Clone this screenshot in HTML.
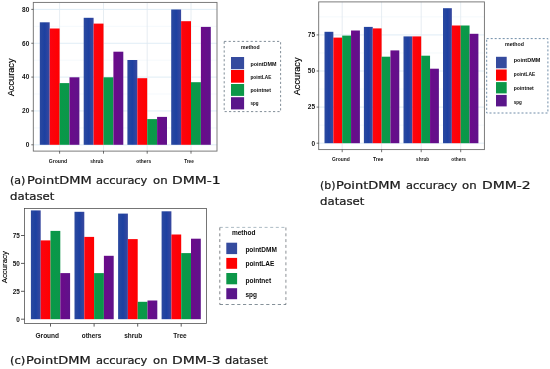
<!DOCTYPE html>
<html><head><meta charset="utf-8"><title>PointDMM accuracy</title>
<style>
html,body{margin:0;padding:0;background:#fff;}
body{width:550px;height:369px;position:relative;overflow:hidden;font-family:"Liberation Sans",sans-serif;}
svg text{font-family:"Liberation Sans",sans-serif;}
.tk{font-size:6.5px;font-weight:bold;fill:#151515;}
.ax{fill:#000;stroke:#000;stroke-width:0.15px;}
.lg{font-weight:bold;fill:#0a0a0a;}
.cap{position:absolute;left:0;top:0;margin:0;}
.w{position:absolute;color:#1a1a1a;font-family:"DejaVu Sans","Liberation Sans",sans-serif;font-size:11.7px;line-height:1;white-space:nowrap;transform-origin:0 0;-webkit-text-stroke:0.25px #1a1a1a;}
</style></head><body>
<svg width="550" height="369" viewBox="0 0 550 369" style="position:absolute;left:0;top:0">
<defs>
<linearGradient id="g0" x1="0" x2="1" y1="0" y2="0"><stop offset="0" stop-color="#2b499f"/><stop offset="0.5" stop-color="#1d40a1"/><stop offset="1" stop-color="#38489f"/></linearGradient>
<linearGradient id="g1" x1="0" x2="1" y1="0" y2="0"><stop offset="0" stop-color="#fb0410"/><stop offset="1" stop-color="#ff0000"/></linearGradient>
<linearGradient id="g2" x1="0" x2="1" y1="0" y2="0"><stop offset="0" stop-color="#089a48"/><stop offset="1" stop-color="#0c964a"/></linearGradient>
<linearGradient id="g3" x1="0" x2="1" y1="0" y2="0"><stop offset="0" stop-color="#6c0a8a"/><stop offset="1" stop-color="#5f128a"/></linearGradient>
</defs>
<rect x="33.3" y="2.4" width="183.7" height="148.7" fill="#fff"/>
<line x1="33.3" x2="217.0" y1="127.88" y2="127.88" stroke="#e9f2f9" stroke-width="0.5"/>
<line x1="33.3" x2="217.0" y1="94.03" y2="94.03" stroke="#e9f2f9" stroke-width="0.5"/>
<line x1="33.3" x2="217.0" y1="60.18" y2="60.18" stroke="#e9f2f9" stroke-width="0.5"/>
<line x1="33.3" x2="217.0" y1="26.33" y2="26.33" stroke="#e9f2f9" stroke-width="0.5"/>
<line x1="33.3" x2="217.0" y1="144.80" y2="144.80" stroke="#d8e8f4" stroke-width="0.8"/>
<line x1="33.3" x2="217.0" y1="110.95" y2="110.95" stroke="#d8e8f4" stroke-width="0.8"/>
<line x1="33.3" x2="217.0" y1="77.10" y2="77.10" stroke="#d8e8f4" stroke-width="0.8"/>
<line x1="33.3" x2="217.0" y1="43.25" y2="43.25" stroke="#d8e8f4" stroke-width="0.8"/>
<line x1="33.3" x2="217.0" y1="9.40" y2="9.40" stroke="#d8e8f4" stroke-width="0.8"/>
<line x1="59.6" x2="59.6" y1="2.4" y2="151.1" stroke="#dfe8ef" stroke-width="0.8"/>
<line x1="103.5" x2="103.5" y1="2.4" y2="151.1" stroke="#dfe8ef" stroke-width="0.8"/>
<line x1="147.2" x2="147.2" y1="2.4" y2="151.1" stroke="#dfe8ef" stroke-width="0.8"/>
<line x1="191.0" x2="191.0" y1="2.4" y2="151.1" stroke="#dfe8ef" stroke-width="0.8"/>
<rect x="39.80" y="22.30" width="9.90" height="122.50" fill="url(#g0)"/>
<rect x="49.70" y="28.50" width="9.90" height="116.30" fill="url(#g1)"/>
<rect x="59.60" y="83.10" width="9.90" height="61.70" fill="url(#g2)"/>
<rect x="69.50" y="77.30" width="9.90" height="67.50" fill="url(#g3)"/>
<rect x="83.70" y="17.80" width="9.90" height="127.00" fill="url(#g0)"/>
<rect x="93.60" y="23.60" width="9.90" height="121.20" fill="url(#g1)"/>
<rect x="103.50" y="77.30" width="9.90" height="67.50" fill="url(#g2)"/>
<rect x="113.40" y="51.70" width="9.90" height="93.10" fill="url(#g3)"/>
<rect x="127.40" y="60.00" width="9.90" height="84.80" fill="url(#g0)"/>
<rect x="137.30" y="78.20" width="9.90" height="66.60" fill="url(#g1)"/>
<rect x="147.20" y="119.10" width="9.90" height="25.70" fill="url(#g2)"/>
<rect x="157.10" y="116.90" width="9.90" height="27.90" fill="url(#g3)"/>
<rect x="171.20" y="9.50" width="9.90" height="135.30" fill="url(#g0)"/>
<rect x="181.10" y="21.20" width="9.90" height="123.60" fill="url(#g1)"/>
<rect x="191.00" y="82.20" width="9.90" height="62.60" fill="url(#g2)"/>
<rect x="200.90" y="26.90" width="9.90" height="117.90" fill="url(#g3)"/>
<rect x="33.3" y="2.4" width="183.7" height="148.7" fill="none" stroke="#6e6e6e" stroke-width="0.9"/>
<line x1="31.3" x2="33.3" y1="144.80" y2="144.80" stroke="#333" stroke-width="0.7"/>
<text x="29.3" y="147.10" text-anchor="end" class="tk">0</text>
<line x1="31.3" x2="33.3" y1="110.95" y2="110.95" stroke="#333" stroke-width="0.7"/>
<text x="29.3" y="113.25" text-anchor="end" class="tk">20</text>
<line x1="31.3" x2="33.3" y1="77.10" y2="77.10" stroke="#333" stroke-width="0.7"/>
<text x="29.3" y="79.40" text-anchor="end" class="tk">40</text>
<line x1="31.3" x2="33.3" y1="43.25" y2="43.25" stroke="#333" stroke-width="0.7"/>
<text x="29.3" y="45.55" text-anchor="end" class="tk">60</text>
<line x1="31.3" x2="33.3" y1="9.40" y2="9.40" stroke="#333" stroke-width="0.7"/>
<text x="29.3" y="11.70" text-anchor="end" class="tk">80</text>
<line x1="59.6" x2="59.6" y1="151.1" y2="153.7" stroke="#333" stroke-width="0.7"/>
<text x="48.7" y="162.9" textLength="18.50" lengthAdjust="spacingAndGlyphs" class="tk" style="font-size:5.5px">Ground</text>
<line x1="103.5" x2="103.5" y1="151.1" y2="153.7" stroke="#333" stroke-width="0.7"/>
<text x="90.2" y="162.9" textLength="13.10" lengthAdjust="spacingAndGlyphs" class="tk" style="font-size:5.5px">shrub</text>
<line x1="147.2" x2="147.2" y1="151.1" y2="153.7" stroke="#333" stroke-width="0.7"/>
<text x="136.2" y="162.9" textLength="15.00" lengthAdjust="spacingAndGlyphs" class="tk" style="font-size:5.5px">others</text>
<line x1="191.0" x2="191.0" y1="151.1" y2="153.7" stroke="#333" stroke-width="0.7"/>
<text x="184.2" y="162.9" textLength="9.60" lengthAdjust="spacingAndGlyphs" class="tk" style="font-size:5.5px">Tree</text>
<text transform="translate(14.4,77.4) rotate(-90)" text-anchor="middle" class="ax" style="font-size:9.2px">Accuracy</text>
<rect x="224.2" y="41.4" width="56.4" height="70.2" fill="#fff" stroke="#4a5c6c" stroke-width="0.7" stroke-dasharray="2.2 2.2"/>
<text x="241.1" y="49.2" textLength="18.5" lengthAdjust="spacingAndGlyphs" class="lg" style="font-size:5.7px">method</text>
<rect x="231" y="57" width="13.1" height="12.20" fill="#354b9e"/>
<text x="250.4" y="66.1" textLength="26.00" lengthAdjust="spacingAndGlyphs" class="lg" style="font-size:5.7px">pointDMM</text>
<rect x="231" y="70.0" width="13.1" height="12.70" fill="#fe0000"/>
<text x="250.4" y="79.1" textLength="21.00" lengthAdjust="spacingAndGlyphs" class="lg" style="font-size:5.7px">pointLAE</text>
<rect x="231" y="84.0" width="13.1" height="11.90" fill="#0c9748"/>
<text x="250.4" y="92.1" textLength="20.60" lengthAdjust="spacingAndGlyphs" class="lg" style="font-size:5.7px">pointnet</text>
<rect x="231" y="97.2" width="13.1" height="12.20" fill="#5a168a"/>
<text x="250.4" y="105.4" textLength="8.00" lengthAdjust="spacingAndGlyphs" class="lg" style="font-size:5.7px">spg</text>
<rect x="318.7" y="1.9" width="165.7" height="147.7" fill="#fff"/>
<line x1="318.7" x2="484.4" y1="125.15" y2="125.15" stroke="#e9f2f9" stroke-width="0.5"/>
<line x1="318.7" x2="484.4" y1="89.05" y2="89.05" stroke="#e9f2f9" stroke-width="0.5"/>
<line x1="318.7" x2="484.4" y1="52.95" y2="52.95" stroke="#e9f2f9" stroke-width="0.5"/>
<line x1="318.7" x2="484.4" y1="16.85" y2="16.85" stroke="#e9f2f9" stroke-width="0.5"/>
<line x1="318.7" x2="484.4" y1="143.20" y2="143.20" stroke="#d8e8f4" stroke-width="0.8"/>
<line x1="318.7" x2="484.4" y1="107.10" y2="107.10" stroke="#d8e8f4" stroke-width="0.8"/>
<line x1="318.7" x2="484.4" y1="71.00" y2="71.00" stroke="#d8e8f4" stroke-width="0.8"/>
<line x1="318.7" x2="484.4" y1="34.90" y2="34.90" stroke="#d8e8f4" stroke-width="0.8"/>
<line x1="342.2" x2="342.2" y1="1.9" y2="149.6" stroke="#dfe8ef" stroke-width="0.8"/>
<line x1="381.6" x2="381.6" y1="1.9" y2="149.6" stroke="#dfe8ef" stroke-width="0.8"/>
<line x1="421.2" x2="421.2" y1="1.9" y2="149.6" stroke="#dfe8ef" stroke-width="0.8"/>
<line x1="460.7" x2="460.7" y1="1.9" y2="149.6" stroke="#dfe8ef" stroke-width="0.8"/>
<rect x="324.50" y="31.80" width="8.85" height="111.40" fill="url(#g0)"/>
<rect x="333.35" y="37.60" width="8.85" height="105.60" fill="url(#g1)"/>
<rect x="342.20" y="35.60" width="8.85" height="107.60" fill="url(#g2)"/>
<rect x="351.05" y="30.50" width="8.85" height="112.70" fill="url(#g3)"/>
<rect x="363.90" y="26.90" width="8.85" height="116.30" fill="url(#g0)"/>
<rect x="372.75" y="28.40" width="8.85" height="114.80" fill="url(#g1)"/>
<rect x="381.60" y="56.70" width="8.85" height="86.50" fill="url(#g2)"/>
<rect x="390.45" y="50.40" width="8.85" height="92.80" fill="url(#g3)"/>
<rect x="403.50" y="36.40" width="8.85" height="106.80" fill="url(#g0)"/>
<rect x="412.35" y="36.40" width="8.85" height="106.80" fill="url(#g1)"/>
<rect x="421.20" y="55.70" width="8.85" height="87.50" fill="url(#g2)"/>
<rect x="430.05" y="68.70" width="8.85" height="74.50" fill="url(#g3)"/>
<rect x="443.00" y="8.20" width="8.85" height="135.00" fill="url(#g0)"/>
<rect x="451.85" y="25.50" width="8.85" height="117.70" fill="url(#g1)"/>
<rect x="460.70" y="25.50" width="8.85" height="117.70" fill="url(#g2)"/>
<rect x="469.55" y="33.80" width="8.85" height="109.40" fill="url(#g3)"/>
<rect x="318.7" y="1.9" width="165.7" height="147.7" fill="none" stroke="#6e6e6e" stroke-width="0.9"/>
<line x1="316.6" x2="318.7" y1="143.20" y2="143.20" stroke="#333" stroke-width="0.7"/>
<text x="315" y="145.50" text-anchor="end" class="tk">0</text>
<line x1="316.6" x2="318.7" y1="107.10" y2="107.10" stroke="#333" stroke-width="0.7"/>
<text x="315" y="109.40" text-anchor="end" class="tk">25</text>
<line x1="316.6" x2="318.7" y1="71.00" y2="71.00" stroke="#333" stroke-width="0.7"/>
<text x="315" y="73.30" text-anchor="end" class="tk">50</text>
<line x1="316.6" x2="318.7" y1="34.90" y2="34.90" stroke="#333" stroke-width="0.7"/>
<text x="315" y="37.20" text-anchor="end" class="tk">75</text>
<line x1="342.2" x2="342.2" y1="149.6" y2="152.2" stroke="#333" stroke-width="0.7"/>
<text x="331.9" y="160.9" textLength="17.80" lengthAdjust="spacingAndGlyphs" class="tk" style="font-size:5.5px">Ground</text>
<line x1="381.6" x2="381.6" y1="149.6" y2="152.2" stroke="#333" stroke-width="0.7"/>
<text x="373.0" y="160.9" textLength="10.30" lengthAdjust="spacingAndGlyphs" class="tk" style="font-size:5.5px">Tree</text>
<line x1="421.2" x2="421.2" y1="149.6" y2="152.2" stroke="#333" stroke-width="0.7"/>
<text x="416.1" y="160.9" textLength="13.00" lengthAdjust="spacingAndGlyphs" class="tk" style="font-size:5.5px">shrub</text>
<line x1="460.7" x2="460.7" y1="149.6" y2="152.2" stroke="#333" stroke-width="0.7"/>
<text x="451.3" y="160.9" textLength="14.60" lengthAdjust="spacingAndGlyphs" class="tk" style="font-size:5.5px">others</text>
<text transform="translate(299.8,76.4) rotate(-90)" text-anchor="middle" class="ax" style="font-size:9.2px">Accuracy</text>
<rect x="486.7" y="38.6" width="61.2" height="74.4" fill="#fff" stroke="#60809e" stroke-width="0.9" stroke-dasharray="2 2"/>
<text x="505.1" y="46.4" textLength="18.8" lengthAdjust="spacingAndGlyphs" class="lg" style="font-size:5.7px">method</text>
<rect x="496" y="56.8" width="10.7" height="11.50" fill="#354b9e"/>
<text x="513.7" y="62.3" textLength="26.70" lengthAdjust="spacingAndGlyphs" class="lg" style="font-size:5.7px">pointDMM</text>
<rect x="496" y="69.5" width="10.7" height="11.20" fill="#fe0000"/>
<text x="513.7" y="76.1" textLength="21.50" lengthAdjust="spacingAndGlyphs" class="lg" style="font-size:5.7px">pointLAE</text>
<rect x="496" y="82.1" width="10.7" height="11.30" fill="#0c9748"/>
<text x="513.7" y="90.3" textLength="20.10" lengthAdjust="spacingAndGlyphs" class="lg" style="font-size:5.7px">pointnet</text>
<rect x="496" y="94.9" width="10.7" height="11.50" fill="#5a168a"/>
<text x="513.7" y="104.2" textLength="8.10" lengthAdjust="spacingAndGlyphs" class="lg" style="font-size:5.7px">spg</text>
<rect x="24.5" y="208.4" width="182.1" height="115.20000000000002" fill="#fff"/>
<rect x="30.90" y="210.40" width="9.80" height="108.80" fill="url(#g0)"/>
<rect x="40.70" y="240.40" width="9.80" height="78.80" fill="url(#g1)"/>
<rect x="50.50" y="230.90" width="9.80" height="88.30" fill="url(#g2)"/>
<rect x="60.30" y="273.10" width="9.80" height="46.10" fill="url(#g3)"/>
<rect x="74.50" y="211.80" width="9.80" height="107.40" fill="url(#g0)"/>
<rect x="84.30" y="236.90" width="9.80" height="82.30" fill="url(#g1)"/>
<rect x="94.10" y="273.10" width="9.80" height="46.10" fill="url(#g2)"/>
<rect x="103.90" y="255.80" width="9.80" height="63.40" fill="url(#g3)"/>
<rect x="118.10" y="213.60" width="9.80" height="105.60" fill="url(#g0)"/>
<rect x="127.90" y="239.10" width="9.80" height="80.10" fill="url(#g1)"/>
<rect x="137.70" y="301.80" width="9.80" height="17.40" fill="url(#g2)"/>
<rect x="147.50" y="300.50" width="9.80" height="18.70" fill="url(#g3)"/>
<rect x="161.60" y="211.30" width="9.80" height="107.90" fill="url(#g0)"/>
<rect x="171.40" y="234.50" width="9.80" height="84.70" fill="url(#g1)"/>
<rect x="181.20" y="253.10" width="9.80" height="66.10" fill="url(#g2)"/>
<rect x="191.00" y="238.70" width="9.80" height="80.50" fill="url(#g3)"/>
<rect x="24.5" y="208.4" width="182.1" height="115.20000000000002" fill="none" stroke="#484848" stroke-width="0.75"/>
<line x1="21" x2="24.5" y1="319.20" y2="319.20" stroke="#333" stroke-width="0.8"/>
<text x="19.8" y="321.60" text-anchor="end" class="tk" style="font-size:6.4px">0</text>
<line x1="21" x2="24.5" y1="291.30" y2="291.30" stroke="#333" stroke-width="0.8"/>
<text x="19.8" y="293.70" text-anchor="end" class="tk" style="font-size:6.4px">25</text>
<line x1="21" x2="24.5" y1="263.40" y2="263.40" stroke="#333" stroke-width="0.8"/>
<text x="19.8" y="265.80" text-anchor="end" class="tk" style="font-size:6.4px">50</text>
<line x1="21" x2="24.5" y1="235.50" y2="235.50" stroke="#333" stroke-width="0.8"/>
<text x="19.8" y="237.90" text-anchor="end" class="tk" style="font-size:6.4px">75</text>
<line x1="50.5" x2="50.5" y1="323.6" y2="326.6" stroke="#333" stroke-width="0.8"/>
<text x="35.5" y="338.3" textLength="23.60" lengthAdjust="spacingAndGlyphs" class="tk" style="font-size:6.5px">Ground</text>
<line x1="94.1" x2="94.1" y1="323.6" y2="326.6" stroke="#333" stroke-width="0.8"/>
<text x="81.8" y="337.5" textLength="19.50" lengthAdjust="spacingAndGlyphs" class="tk" style="font-size:6.5px">others</text>
<line x1="137.7" x2="137.7" y1="323.6" y2="326.6" stroke="#333" stroke-width="0.8"/>
<text x="124.2" y="337.5" textLength="18.00" lengthAdjust="spacingAndGlyphs" class="tk" style="font-size:6.5px">shrub</text>
<line x1="181.2" x2="181.2" y1="323.6" y2="326.6" stroke="#333" stroke-width="0.8"/>
<text x="173.3" y="337.5" textLength="13.40" lengthAdjust="spacingAndGlyphs" class="tk" style="font-size:6.5px">Tree</text>
<text transform="translate(7.2,267.2) rotate(-90)" text-anchor="middle" class="ax" style="font-size:7.8px">Accuracy</text>
<line x1="219.8" x2="286" y1="227.4" y2="227.4" stroke="#8097a6" stroke-width="0.65" stroke-dasharray="3 2.6"/>
<line x1="219.8" x2="286" y1="304.5" y2="304.5" stroke="#66757f" stroke-width="0.8" stroke-dasharray="3.2 2.6"/>
<line x1="219.8" x2="219.8" y1="227.5" y2="304.5" stroke="#4a4f55" stroke-width="0.7" stroke-dasharray="3 2.8"/>
<line x1="285.9" x2="285.9" y1="227.5" y2="304.5" stroke="#5a6268" stroke-width="0.7" stroke-dasharray="3 2.8"/>
<text x="231.9" y="235.1" textLength="23.6" lengthAdjust="spacingAndGlyphs" class="lg" style="font-size:6.5px">method</text>
<rect x="226.3" y="242.7" width="10.8" height="11.40" fill="#354b9e"/>
<text x="245.4" y="251.7" textLength="31.40" lengthAdjust="spacingAndGlyphs" class="lg" style="font-size:6.5px">pointDMM</text>
<rect x="226.3" y="257.9" width="10.8" height="10.90" fill="#fe0000"/>
<text x="245.4" y="266.2" textLength="29.00" lengthAdjust="spacingAndGlyphs" class="lg" style="font-size:6.5px">pointLAE</text>
<rect x="226.3" y="273" width="10.8" height="11.30" fill="#0c9748"/>
<text x="245.4" y="283.3" textLength="25.80" lengthAdjust="spacingAndGlyphs" class="lg" style="font-size:6.5px">pointnet</text>
<rect x="226.3" y="288.2" width="10.8" height="11.00" fill="#5a168a"/>
<text x="245.4" y="296.5" textLength="11.50" lengthAdjust="spacingAndGlyphs" class="lg" style="font-size:6.5px">spg</text>
</svg>
<div class="cap"><span class="w" style="left:10.40px;top:176.29px;transform:scale(0.9449,0.93)">(a)</span> <span class="w" style="left:26.60px;top:176.29px;transform:scale(1.1124,0.93)">PointDMM</span> <span class="w" style="left:96.30px;top:176.29px;transform:scale(0.9737,0.93)">accuracy</span> <span class="w" style="left:152.70px;top:176.29px;transform:scale(1.0015,0.93)">on</span> <span class="w" style="left:172.40px;top:176.29px;transform:scale(1.1941,0.93)">DMM-1</span> <span class="w" style="left:10.40px;top:192.39px;transform:scale(1.0037,0.93)">dataset</span></div>
<div class="cap"><span class="w" style="left:319.80px;top:180.79px;transform:scale(0.9302,0.93)">(b)</span> <span class="w" style="left:336.00px;top:180.79px;transform:scale(1.1124,0.93)">PointDMM</span> <span class="w" style="left:405.70px;top:180.79px;transform:scale(0.9737,0.93)">accuracy</span> <span class="w" style="left:462.10px;top:180.79px;transform:scale(1.0015,0.93)">on</span> <span class="w" style="left:481.80px;top:180.79px;transform:scale(1.1941,0.93)">DMM-2</span> <span class="w" style="left:319.80px;top:196.89px;transform:scale(1.0037,0.93)">dataset</span></div>
<div class="cap"><span class="w" style="left:10.20px;top:355.79px;transform:scale(0.9897,0.93)">(c)</span> <span class="w" style="left:26.40px;top:355.79px;transform:scale(1.1124,0.93)">PointDMM</span> <span class="w" style="left:96.10px;top:355.79px;transform:scale(0.9737,0.93)">accuracy</span> <span class="w" style="left:152.50px;top:355.79px;transform:scale(1.0015,0.93)">on</span> <span class="w" style="left:172.20px;top:355.79px;transform:scale(1.1941,0.93)">DMM-3</span> <span class="w" style="left:224.70px;top:355.79px;transform:scale(0.9698,0.93)">dataset</span></div>
</body></html>
